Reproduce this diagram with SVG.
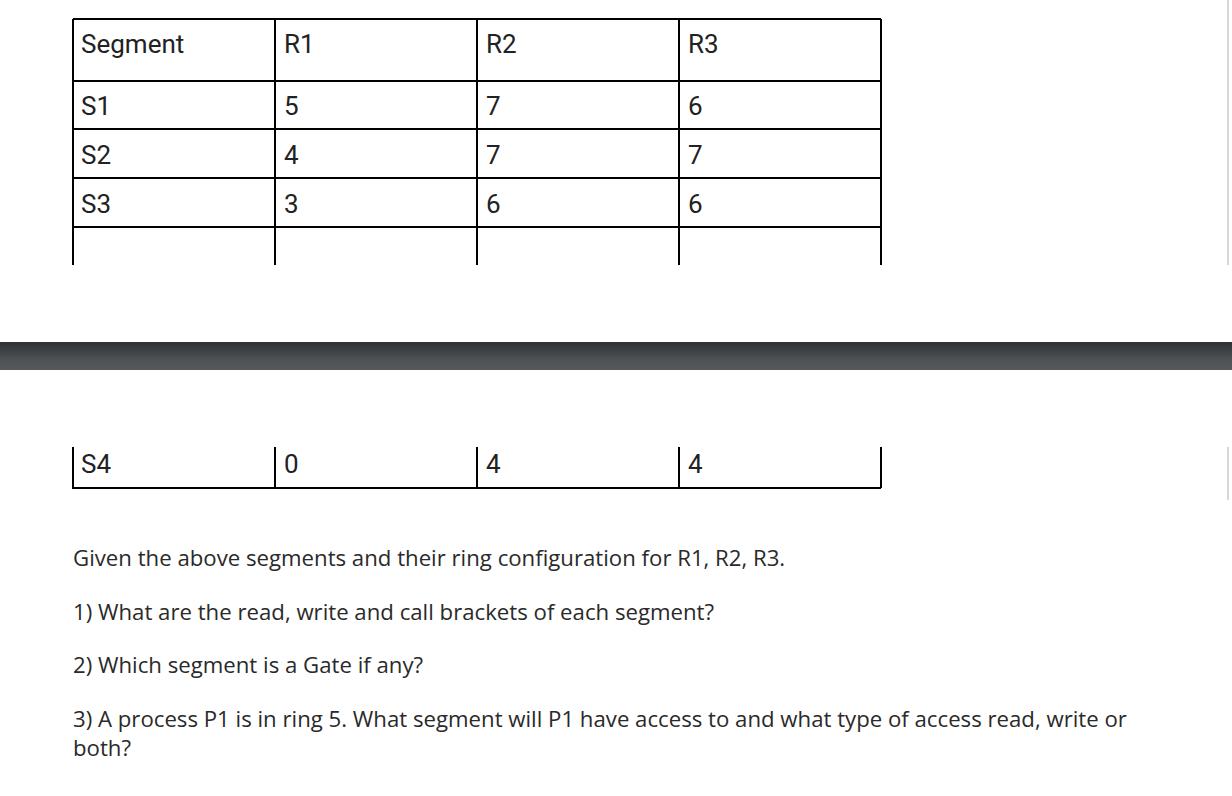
<svg xmlns="http://www.w3.org/2000/svg" width="1232" height="796" viewBox="0 0 1232 796">
<defs>
<style>
.c{font-family:Roboto,"Liberation Sans",sans-serif;font-size:26px;fill:#222}
.q{font-family:"Open Sans","Liberation Sans",sans-serif;font-size:22.2px;fill:#2a2a2a}
.l{stroke:#000;stroke-width:2;fill:none}
</style>
<linearGradient id="band" x1="0" y1="0" x2="0" y2="1">
<stop offset="0" stop-color="#2e3032"/><stop offset="0.6" stop-color="#4d5154"/><stop offset="1" stop-color="#55595c"/>
</linearGradient>
</defs>
<rect width="1232" height="796" fill="#fff"/>
<line x1="1228" y1="0" x2="1228" y2="265" stroke="#d8d8d8" stroke-width="2"/>
<line x1="1228" y1="447" x2="1228" y2="500" stroke="#d8d8d8" stroke-width="2"/>
<g class="l">
<path d="M73 19H881M73 81H881M73 129H881M73 178H881M73 227H881"/>
<path d="M73 19V265M275 19V265M477 19V265M679 19V265M881 19V265"/>
<path d="M73 447V488H881M275 447V488M477 447V488M679 447V488M881 447V488"/>
</g>
<rect x="0" y="342" width="1232" height="28" fill="url(#band)"/>
<g class="c">
<text x="81" y="53">Segment</text><text x="284" y="53">R1</text><text x="486" y="53">R2</text><text x="688" y="53">R3</text>
<text x="81" y="115">S1</text><text x="284" y="115">5</text><text x="486" y="115">7</text><text x="688" y="115">6</text>
<text x="81" y="164">S2</text><text x="284" y="164">4</text><text x="486" y="164">7</text><text x="688" y="164">7</text>
<text x="81" y="213">S3</text><text x="284" y="213">3</text><text x="486" y="213">6</text><text x="688" y="213">6</text>
<text x="81" y="473">S4</text><text x="284" y="473">0</text><text x="486" y="473">4</text><text x="688" y="473">4</text>
</g>
<g class="q">
<text x="73" y="566">Given the above segments and their ring configuration for R1, R2, R3.</text>
<text x="73" y="620">1) What are the read, write and call brackets of each segment?</text>
<text x="73" y="673">2) Which segment is a Gate if any?</text>
<text x="73" y="727">3) A process P1 is in ring 5. What segment will P1 have access to and what type of access read, write or</text>
<text x="73" y="756">both?</text>
</g>
</svg>
